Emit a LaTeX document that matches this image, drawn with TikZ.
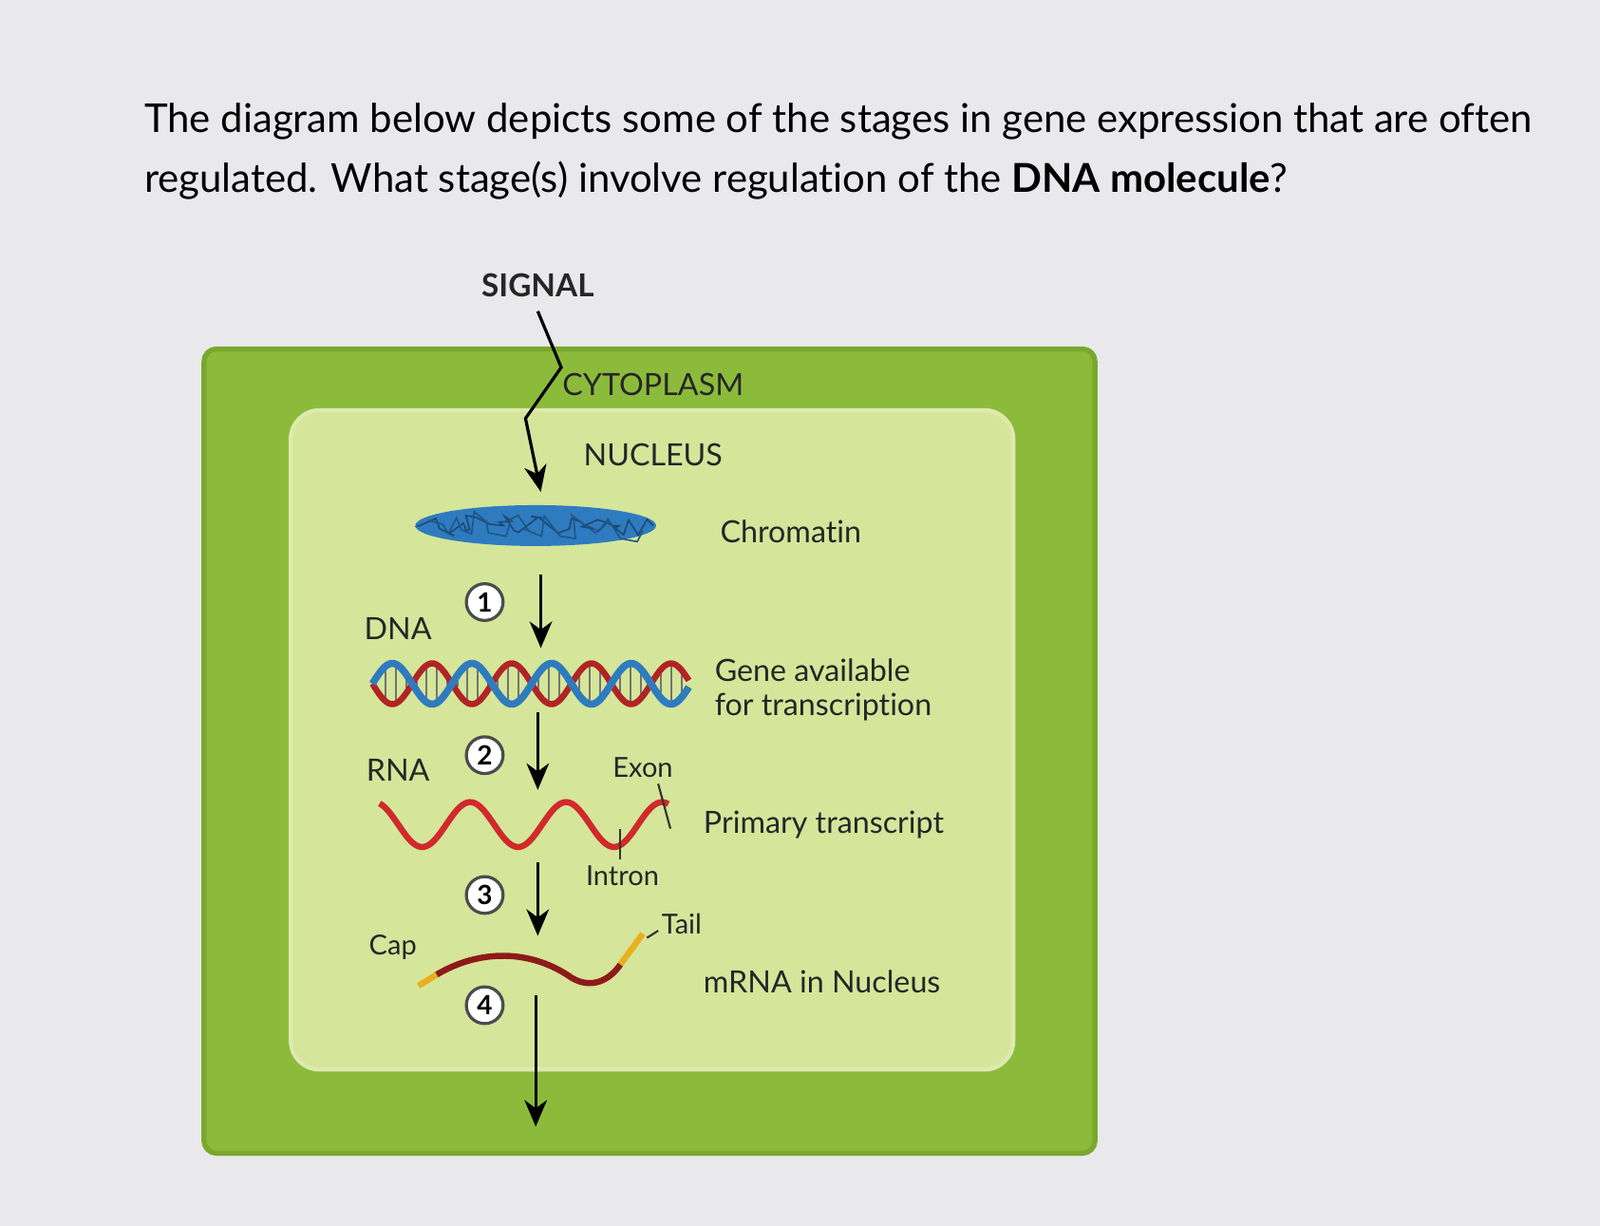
\documentclass[tikz,border=0pt]{standalone}
\usepackage{fontspec}
\setmainfont{Lato}[Ligatures=NoCommon]
\usetikzlibrary{arrows.meta,decorations.pathmorphing}
\definecolor{bg}{HTML}{E9E9EC}
\definecolor{outg}{HTML}{8CBB3C}
\definecolor{outb}{HTML}{7AA82E}
\definecolor{ing}{HTML}{D5E59A}
\definecolor{blu}{HTML}{2E7BC0}
\definecolor{rd}{HTML}{D02A2A}
\definecolor{dr}{HTML}{8E1A1A}
\definecolor{yl}{HTML}{E8B020}
\tikzset{lbl/.style={font=\fontsize{30}{34}\selectfont,text=black!85},
 num/.style={circle,draw=black!70,line width=3pt,fill=white,inner sep=0pt,minimum size=36pt,font=\bfseries\fontsize{26}{28}\selectfont},
 arr/.style={line width=3pt,-{Stealth[length=26pt,width=22pt,inset=8pt]}}}
\begin{document}
\begin{tikzpicture}[x=1pt,y=-1pt]
\fill[bg] (0,0) rectangle (1568,1201);
\useasboundingbox (0,0) rectangle (1568,1201);
\node[anchor=west,font=\fontsize{39}{42}\selectfont] (q1) at (138,119) {The diagram below depicts some of the stages in gene expression that are often};
\node[anchor=west,font=\fontsize{39}{42}\selectfont] (q2) at (138,177) {regulated. What stage(s) involve regulation of the \textbf{DNA molecule}?};
\draw[outb,fill=outg,line width=5pt,rounded corners=12pt] (200,342) rectangle (1073,1130);
\draw[ing!80!white,fill=ing,line width=4pt,rounded corners=28pt] (285,402) rectangle (993,1048);
\node[lbl,font=\bfseries\fontsize{31}{34}\selectfont] (sig) at (527,280) {SIGNAL};
\coordinate (s0) at (527,305);
\coordinate (s1) at (550,360);
\coordinate (s2) at (515,410);
\coordinate (s3) at (530,482);
\draw[arr] (s0) -- (s1) -- (s2) -- (s3);
\node[lbl] (cyt) at (640,377) {CYTOPLASM};
\node[lbl] (nuc) at (640,446) {NUCLEUS};
% chromatin
\fill[blu] (525,515) ellipse (118pt and 20pt);
\draw[blu!60!black,line width=1.5pt,decorate,decoration={random steps,segment length=6pt,amplitude=10pt}] (412,515) -- (640,515);
\draw[blu!70!black,line width=1.5pt,decorate,decoration={random steps,segment length=8pt,amplitude=12pt}] (420,510) -- (630,520);
\node[lbl] (chr) at (775,521) {Chromatin};
\node[num] (n1) at (475,590) {1};
\coordinate (a1s) at (530,563); \coordinate (a1e) at (530,635);
\draw[arr] (a1s) -- (a1e);
\node[lbl] (dna) at (390,616) {DNA};
% DNA helix
\foreach \k in {0,...,30}{
 \pgfmathsetmacro{\xx}{368+\k*10}
 \pgfmathsetmacro{\yy}{20*sin(\k*46.15)}
 \draw[black!55,line width=2pt] (\xx,670-\yy) -- (\xx,670+\yy);
}
\draw[rd!85!black,line width=6pt,domain=365:675,samples=120] plot (\x,{670+20*sin((\x-365)*4.615)});
\draw[blu,line width=7pt,domain=365:675,samples=120] plot (\x,{670-20*sin((\x-365)*4.615)});
\node[lbl,align=left,anchor=west] (gene) at (697,676) {Gene available\\for transcription};
\node[num] (n2) at (475,740) {2};
\coordinate (a2s) at (527,698); \coordinate (a2e) at (527,774);
\draw[arr] (a2s) -- (a2e);
\node[lbl] (rna) at (390,755) {RNA};
\node[lbl,font=\fontsize{27}{30}\selectfont] (exon) at (630,752) {Exon};
\draw[rd,line width=6pt,domain=372:655,samples=120] plot (\x,{808+22*cos((\x-372)*3.83+200)});
\coordinate (ex1) at (645,768); \coordinate (ex2) at (657,812);
\draw[black!80,line width=2pt] (ex1) -- (ex2);
\coordinate (in1) at (608,812); \coordinate (in2) at (608,842);
\draw[black!80,line width=2pt] (in1) -- (in2);
\node[lbl,anchor=west] (prim) at (686,808) {Primary transcript};
\node[lbl,font=\fontsize{27}{30}\selectfont] (intr) at (610,858) {Intron};
\node[num] (n3) at (475,877) {3};
\coordinate (a3s) at (527,845); \coordinate (a3e) at (527,917);
\draw[arr] (a3s) -- (a3e);
\node[lbl,font=\fontsize{27}{30}\selectfont,anchor=west] (tail) at (645,905) {Tail};
\coordinate (t1) at (634,919); \coordinate (t2) at (645,912);
\draw[black!80,line width=2pt] (t1) -- (t2);
\node[lbl,font=\fontsize{27}{30}\selectfont] (cap) at (385,928) {Cap};
\coordinate (m0) at (410,966); \coordinate (m1) at (428,955);
\coordinate (m2) at (608,945); \coordinate (m3) at (630,915);
\draw[yl,line width=6pt] (m0) -- (m1);
\draw[dr,line width=6pt] (m1) .. controls (470,930) and (520,930) .. (560,958) .. controls (580,970) and (598,960) .. (m2);
\draw[yl,line width=6pt] (m2) -- (m3);
\node[lbl,anchor=west] (mrna) at (686,962) {mRNA in Nucleus};
\node[num] (n4) at (475,985) {4};
\coordinate (a4s) at (525,975); \coordinate (a4e) at (525,1104);
\draw[arr] (a4s) -- (a4e);
\end{tikzpicture}
\end{document}
